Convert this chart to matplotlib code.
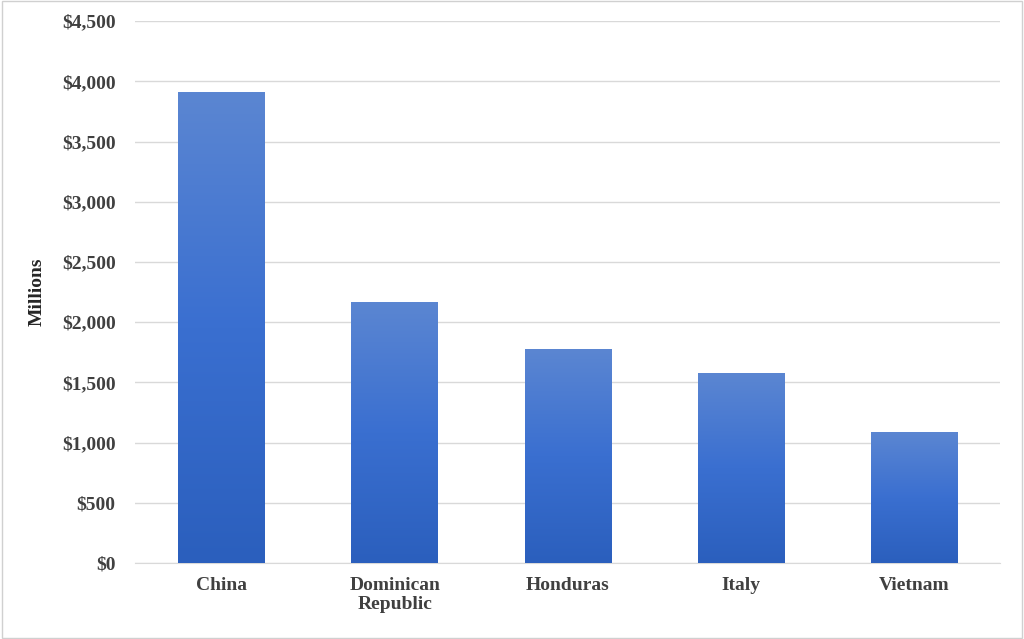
import matplotlib.pyplot as plt
import numpy as np
from matplotlib.colors import LinearSegmentedColormap
from matplotlib.ticker import FuncFormatter

countries = ["China", "Dominican\nRepublic", "Honduras", "Italy", "Vietnam"]
values = [3910, 2160, 1770, 1570, 1080]

plt.rcParams["font.family"] = ["Liberation Serif", "DejaVu Serif"]
plt.rcParams["font.weight"] = "bold"

fig = plt.figure(figsize=(10.24, 6.39), dpi=100)
ax = fig.add_axes([0.132, 0.119, 0.845, 0.848])
fig.patches.append(plt.Rectangle((0.002, 0.002), 0.996, 0.996, transform=fig.transFigure,
                                 fill=False, edgecolor="#d0d0d0", linewidth=1))

x = np.arange(len(countries))
bars = ax.bar(x, values, 0.5, color="none", zorder=3)
cmap = LinearSegmentedColormap.from_list("g", ["#2b5fbd", "#3a6fd0", "#5b86d2"])
grad = np.linspace(0, 1, 256).reshape(-1, 1)
for b in bars:
    x0, w, h = b.get_x(), b.get_width(), b.get_height()
    ax.imshow(grad, cmap=cmap, origin="lower", aspect="auto",
              extent=(x0, x0 + w, 0, h), zorder=3)

ax.set_xlim(-0.5, len(countries) - 0.5)
ax.set_ylim(0, 4500)
ax.set_yticks(np.arange(0, 4501, 500))
ax.yaxis.set_major_formatter(FuncFormatter(lambda v, p: "${:,.0f}".format(v)))
ax.set_xticks(x)
ax.set_xticklabels(countries)
ax.tick_params(length=0, labelsize=14, colors="#404040")
ax.tick_params(axis="x", pad=10)
ax.tick_params(axis="y", pad=14)
ax.grid(axis="y", color="#d9d9d9", linewidth=1, zorder=0)
for s in ["top", "right", "left"]:
    ax.spines[s].set_visible(False)
ax.spines["bottom"].set_color("#d9d9d9")
ax.set_ylabel("Millions", fontsize=14, fontweight="bold", color="#262626", labelpad=12)

fig.savefig("out.png", dpi=100)
